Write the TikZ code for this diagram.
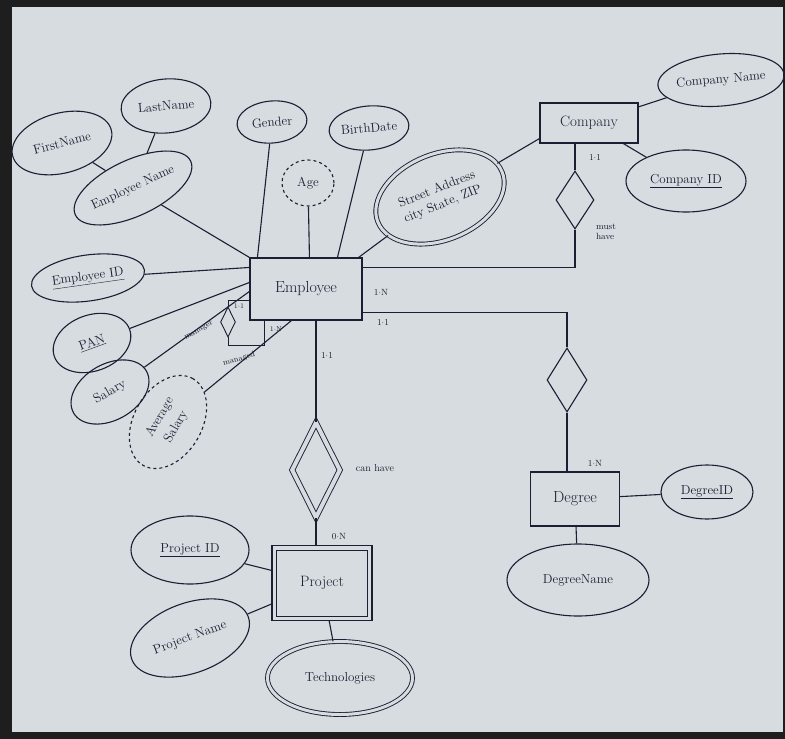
\documentclass[tikz,border=0pt]{standalone}
\usepackage{xcolor}
\usepackage{tikz}
\usetikzlibrary{shapes.geometric, positioning}
\definecolor{InkBlue}{RGB}{28, 30, 52}
\definecolor{PaperGrey}{RGB}{214, 220, 223}
\definecolor{FrameDark}{RGB}{30, 30, 30}

\begin{document}
\begin{tikzpicture}[
  x=1pt, y=-1pt,
  sz/.style 2 args={minimum width=#1pt, minimum height=#2pt},
  attr/.style={ellipse, draw=InkBlue, line width=1.1pt, inner sep=0pt,
               align=center, text=InkBlue, font=\fontsize{13}{16}\selectfont},
  keyattr/.style={attr},
  multiattr/.style={attr, double=PaperGrey, double distance=3pt, line width=0.9pt},
  derivattr/.style={attr, dashed},
  entity/.style={rectangle, draw=InkBlue, line width=1.1pt, inner sep=0pt,
                 text=InkBlue, font=\fontsize{16}{18}\selectfont},
  rel/.style={diamond, draw=InkBlue, line width=1.1pt, inner sep=0pt},
  idrel/.style={rel, double=PaperGrey, double distance=4pt, line width=0.9pt},
  conn/.style={draw=InkBlue, line width=1.1pt},
  card/.style={text=InkBlue, inner sep=1pt, font=\fontsize{9}{10}\selectfont}
]
  % photo frame and paper
  \fill[FrameDark] (0,0) rectangle (785,739);
  \fill[PaperGrey] (12,7) rectangle (783,732);
  \useasboundingbox (0,0) rectangle (785,739);

  % entities
  \node[entity, sz={112}{62}] (emp) at (306,289) {Employee};
  \node[entity, sz={98}{40}, font=\fontsize{15}{17}\selectfont] (company) at (589,123) {Company};
  \node[entity, sz={89}{54}] (degree) at (575,499) {Degree};
  \node[entity, sz={100}{75}, font=\fontsize{15}{17}\selectfont] (project) at (322,583) {Project};
  \draw[conn, line width=0.9pt] ([shift={(5pt,-5pt)}]project.north west)
    rectangle ([shift={(-5pt,5pt)}]project.south east);

  % relationships
  \node[rel, sz={38}{58}] (mhave) at (575,200) {};
  \node[rel, sz={40}{64}] (drel) at (567,380) {};
  \node[idrel, sz={48}{95}] (chave) at (316,470) {};
  \node[rel, sz={15}{30}, line width=0.9pt] (mgr) at (228,322) {};

  % employee attributes
  \node[attr, sz={102}{60}, rotate=15] (fname) at (62,143) {FirstName};
  \node[attr, sz={90}{54}, rotate=5] (lname) at (166,106) {LastName};
  \node[attr, sz={114}{56}, rotate=25] (ename) at (133,188) {Employee Name};
  \node[attr, sz={70}{42}, rotate=5] (gender) at (272,122) {Gender};
  \node[attr, sz={80}{44}, rotate=5] (birth) at (369,128) {BirthDate};
  \node[derivattr, sz={52}{46}] (age) at (308,183) {Age};
  \node[multiattr, sz={134}{86}, rotate=22] (street) at (440,197) {Street Address\\city State, ZIP};
  \node[keyattr, sz={114}{46}, rotate=8] (empid) at (88,278) {\underline{Employee ID}};
  \node[keyattr, sz={80}{56}, rotate=20] (pan) at (92,343) {\underline{PAN}};
  \node[attr, sz={84}{56}, rotate=30] (salary) at (110,392) {Salary};
  \node[derivattr, sz={100}{68}, rotate=60, font=\fontsize{13}{19}\selectfont] (avgsal) at (168,422) {Average\\Salary};

  % company attributes
  \node[attr, sz={112}{52}, rotate=5] (cname) at (721,80) {Company Name};
  \node[keyattr, sz={120}{62}] (cid) at (686,181) {\underline{Company ID}};

  % degree attributes
  \node[keyattr, sz={92}{54}] (did) at (707,492) {\underline{DegreeID}};
  \node[attr, sz={142}{72}] (dname) at (578,580) {DegreeName};

  % project attributes
  \node[keyattr, sz={118}{68}] (pid) at (190,550) {\underline{Project ID}};
  \node[attr, sz={124}{70}, rotate=20] (pname) at (190,638) {Project Name};
  \node[multiattr, sz={145}{73}] (tech) at (340,678) {Technologies};

  % attachment points on Employee
  \coordinate (eGen) at ([xshift=8pt]emp.north west);
  \coordinate (eAge) at ([xshift=60pt]emp.north west);
  \coordinate (eBirth) at ([xshift=88pt]emp.north west);
  \coordinate (eStreet) at ([xshift=-4pt]emp.north east);
  \coordinate (eId) at ([yshift=-10pt]emp.north west);
  \coordinate (ePan) at ([yshift=-25pt]emp.north west);
  \coordinate (eSal) at ([yshift=-34pt]emp.north west);
  \coordinate (eLoopA) at ([yshift=-43pt]emp.north west);
  \coordinate (eLoopB) at ([xshift=15pt]emp.south west);
  \coordinate (eAvg) at ([xshift=42pt]emp.south west);
  \coordinate (eHave) at ([xshift=10pt]emp.south);
  \coordinate (eMust) at ([yshift=-10pt]emp.north east);
  \coordinate (eDeg) at ([yshift=8pt]emp.south east);

  % attribute links
  \draw[conn] (fname) -- (ename);
  \draw[conn] (lname) -- (ename);
  \draw[conn] (ename) -- (emp.north west);
  \draw[conn] (gender) -- (eGen);
  \draw[conn] (age) -- (eAge);
  \draw[conn] (birth) -- (eBirth);
  \draw[conn] (street) -- (eStreet);
  \draw[conn] (street) -- ([yshift=5pt]company.south west);
  \draw[conn] (empid) -- (eId);
  \draw[conn] (pan) -- (ePan);
  \draw[conn] (salary) -- (eSal);
  \draw[conn] (avgsal) -- (eAvg);
  \draw[conn] (company) -- (cname);
  \draw[conn] (company) -- (cid);
  \draw[conn] (degree) -- (did);
  \draw[conn] (degree) -- (dname);
  \draw[conn] (project) -- (pid);
  \draw[conn] (project) -- (pname);
  \draw[conn] (project) -- (tech);

  % relationship links
  \draw[conn] (mhave.north) -- (mhave.north |- company.south);
  \draw[conn] (eMust) -| (mhave.south);
  \draw[conn] (eDeg) -| (drel.north);
  \draw[conn] (drel.south) -- (drel.south |- degree.north);
  \draw[conn] (eHave) -- (chave.north);
  \draw[conn] (chave.south) -- (chave.south |- project.north);
  \draw[conn, line width=0.9pt] (eLoopA) -| (mgr.north);
  \draw[conn, line width=0.9pt] (mgr.south) -- ++(0,8) -| (eLoopB);

  % cardinalities and role names
  \node[card] (cMust) at (595,158) {1$\cdot$1};
  \node[card, align=left] (lMust) at (606,232) {must\\have};
  \node[card] (cEmpA) at (381,292) {1$\cdot$N};
  \node[card] (cEmpB) at (383,322) {1$\cdot$1};
  \node[card] (cDeg) at (595,463) {1$\cdot$N};
  \node[card] (cHaveA) at (327,355) {1$\cdot$1};
  \node[card, font=\fontsize{10}{12}\selectfont] (lHave) at (375,468) {can have};
  \node[card] (cHaveB) at (339,537) {0$\cdot$N};
  \node[card, font=\fontsize{7}{8}\selectfont] (cMgrA) at (239,306) {1$\cdot$1};
  \node[card, font=\fontsize{7}{8}\selectfont] (cMgrB) at (276,329) {1$\cdot$N};
  \node[card, font=\fontsize{8}{9}\selectfont, rotate=30] (lMgr) at (199,331) {manager};
  \node[card, font=\fontsize{8}{9}\selectfont, rotate=15] (lMgd) at (239,359) {managed};
\end{tikzpicture}
\end{document}
